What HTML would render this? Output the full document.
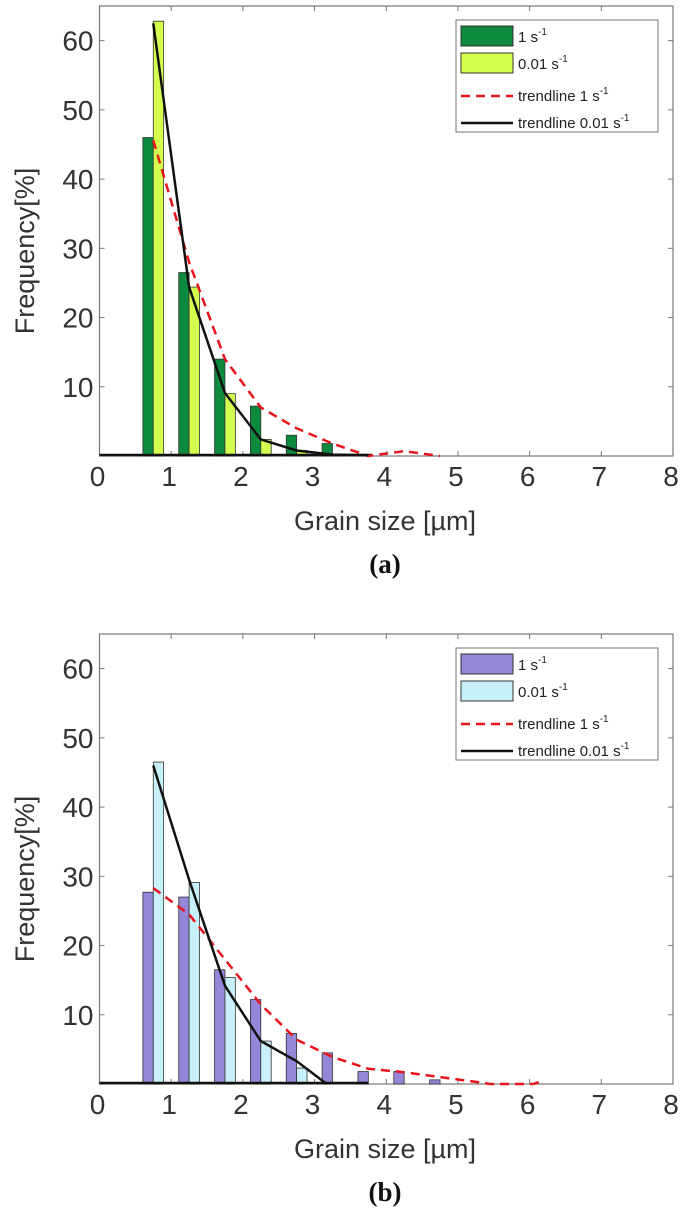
<!DOCTYPE html>
<html><head><meta charset="utf-8"><style>
body{margin:0;background:#fff;}
svg{display:block;}
text{font-family:"Liberation Sans",sans-serif;}
</style></head><body>
<svg id="chart" width="685" height="1217" viewBox="0 0 685 1217"></svg>
<script>
const bins=[0.75,1.25,1.75,2.25,2.75,3.25,3.75,4.25,4.75];
const aFast=[46,26.5,14,7.2,3,1.8,0,0,0];
const aSlow=[62.8,24.4,9,2.4,0.8,0.3,0,0,0];
const aTrendFast=[45.6,28,14,7,4,1.8,0,0.7,0];
const aTrendSlow=[62.5,24.4,9.1,2.4,0.8,0.2,0.1];
const bFast=[27.7,27,16.5,12.2,7.3,4.5,1.8,1.8,0.6];
const bSlow=[46.5,29.1,15.4,6.2,2.3,0,0,0,0];
const bTrendFastX=[0.75,1.25,1.75,2.25,2.75,3.25,3.75,4.25,4.75,5.25,5.45,6.05,6.2];
const bTrendFast=[28.3,24.5,18,11.5,6.4,3.9,2.2,1.7,1.0,0.3,0,0,0.5];
const bTrendSlowX=[0.75,1.25,1.75,2.25,2.75,3.17];
const bTrendSlow=[46,29.5,14.2,6.2,3.3,0];
const xTicks=[0,1,2,3,4,5,6,7,8];
const yTicks=[10,20,30,40,50,60];
const NS="http://www.w3.org/2000/svg";
const svg=document.getElementById('chart');
function mk(tag,attrs,parent){const e=document.createElementNS(NS,tag);for(const k in attrs)e.setAttribute(k,attrs[k]);(parent||svg).appendChild(e);return e;}
function panel(cfg){
  const L=99.5,R=673,T=cfg.top,B=cfg.top+450;
  const xs=v=>L+(R-L)*v/8, ys=v=>B-(B-T)*v/65;
  const g=mk('g',{});
  
  
  mk('rect',{x:L,y:T,width:R-L,height:B-T,fill:'#fff',stroke:'#777','stroke-width':1.2},g);
  xTicks.forEach(t=>{
    const x=xs(t);
    mk('line',{x1:x,x2:x,y1:B,y2:B-5,stroke:'#777'},g);
    mk('line',{x1:x,x2:x,y1:T,y2:T+5,stroke:'#777'},g);
    const tx=mk('text',{x:x-2,y:B+30,'text-anchor':'middle','font-size':28,fill:'#333'},g);
    
    
    tx.textContent=t;
  });
  yTicks.forEach(t=>{
    const y=ys(t);
    mk('line',{x1:L,x2:L+5,y1:y,y2:y,stroke:'#777'},g);
    mk('line',{x1:R,x2:R-5,y1:y,y2:y,stroke:'#777'},g);
    const tx=mk('text',{x:L-6,y:y+10,'text-anchor':'end','font-size':28,fill:'#333'},g);
    
    
    tx.textContent=t;
  });
  const bw=0.145;
  bins.forEach((c,i)=>{
    if(cfg.fast[i]>0){const r=mk('rect',{x:xs(c-bw),y:ys(cfg.fast[i]),width:xs(bw)-xs(0),height:B-ys(cfg.fast[i]),fill:cfg.c1,stroke:'#333','stroke-width':0.8},g);
      
      }
    if(cfg.slow[i]>0){const r=mk('rect',{x:xs(c),y:ys(cfg.slow[i]),width:xs(bw)-xs(0),height:B-ys(cfg.slow[i]),fill:cfg.c2,stroke:'#333','stroke-width':0.8},g);
      
      }
  });
  mk('line',{x1:xs(0),x2:xs(cfg.baseEnd),y1:B-1,y2:B-1,stroke:'#111','stroke-width':2.5},g);
  const pf=mk('polyline',{points:cfg.tfX.map((x,i)=>xs(x)+','+ys(cfg.tf[i])).join(' '),fill:'none',stroke:'#e8141c','stroke-width':2.5,'stroke-dasharray':'9,6'},g);
  
  
  const ps=mk('polyline',{points:cfg.tsX.map((x,i)=>xs(x)+','+ys(cfg.ts[i])).join(' '),fill:'none',stroke:'#111','stroke-width':2.5},g);
  
  
  const lg=mk('g',{},g);
  
  
  const ly=T+14;
  mk('rect',{x:456,y:ly,width:202,height:112,fill:'#fff',stroke:'#777'},lg);
  mk('rect',{x:461,y:ly+6,width:52,height:20,fill:cfg.c1,stroke:'#333'},lg);
  mk('rect',{x:461,y:ly+33,width:52,height:20,fill:cfg.c2,stroke:'#333'},lg);
  mk('line',{x1:461,x2:513,y1:ly+76,y2:ly+76,stroke:'#e8141c','stroke-width':2.5,'stroke-dasharray':'9,6'},lg);
  mk('line',{x1:461,x2:513,y1:ly+103,y2:ly+103,stroke:'#111','stroke-width':2.5},lg);
  const labels=['1 s','0.01 s','trendline 1 s','trendline 0.01 s'];
  const rows=[ly+22,ly+49,ly+81,ly+108];
  labels.forEach((t,i)=>{
    const tx=mk('text',{x:518,y:rows[i],'font-size':15,fill:'#222'},lg);
    
    
    tx.textContent=t;
    const s=mk('tspan',{dy:-7,'font-size':10},tx);s.textContent='-1';
  });
  const yt=mk('text',{x:0,y:0,'text-anchor':'middle','font-size':27,fill:'#333',transform:`translate(34,${(T+B)/2+20}) rotate(-90)`},g);
  
  
  yt.textContent='Frequency[%]';
  const xt=mk('text',{x:385,y:B+74,'text-anchor':'middle','font-size':27,fill:'#333'},g);
  
  
  xt.textContent='Grain size [µm]';
  const pl=mk('text',{x:385,y:B+117,'text-anchor':'middle','font-size':27,'font-weight':'bold',fill:'#111',style:'font-family:"Liberation Serif",serif'},g);
  
  
  pl.textContent=cfg.label;
}
panel({name:'panel-a',top:6,fast:aFast,slow:aSlow,c1:'#0e8a3e',c2:'#d4ff4f',tfX:bins,tf:aTrendFast,tsX:bins.slice(0,7),ts:aTrendSlow,baseEnd:3.8,label:'(a)'});
panel({name:'panel-b',top:634,fast:bFast,slow:bSlow,c1:'#9486d8',c2:'#c8f0fa',tfX:bTrendFastX,tf:bTrendFast,tsX:bTrendSlowX,ts:bTrendSlow,baseEnd:3.75,label:'(b)'});
</script>
</body></html>
